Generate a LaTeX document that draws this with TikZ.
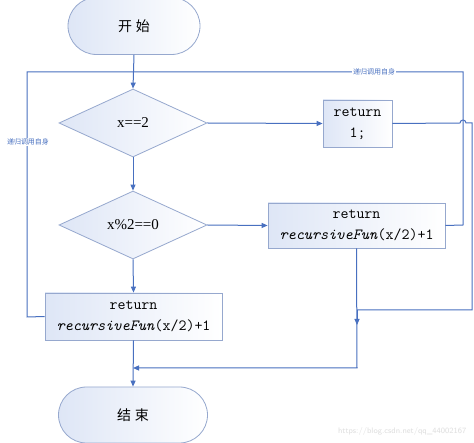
\documentclass[tikz,border=0pt]{standalone}
\usepackage{fontspec}
\setmainfont{Liberation Serif}
\newfontfamily\cjk{Noto Sans CJK SC}
\usetikzlibrary{shapes.geometric,shapes.misc,arrows.meta}
\definecolor{lineblue}{RGB}{72,112,192}
\definecolor{edgegray}{RGB}{150,168,206}
\definecolor{fillblue}{RGB}{222,230,246}
\definecolor{wmgray}{RGB}{222,222,222}
\begin{document}
\begin{tikzpicture}[x=1pt,y=-1pt,
  shapefill/.style={draw=edgegray, line width=0.8pt, left color=fillblue, right color=white},
  term/.style={shapefill, rounded rectangle, minimum width=132pt, minimum height=57pt, inner sep=0pt, font=\cjk\fontsize{14}{16}\selectfont},
  decide/.style={shapefill, diamond, minimum width=148pt, minimum height=68pt, inner sep=0pt, font=\fontsize{15}{17}\selectfont},
  action/.style={shapefill, rectangle, inner sep=0pt, align=center, font=\ttfamily\fontsize{15.5}{21}\selectfont},
  flow/.style={draw=lineblue, line width=1pt},
  arr/.style={flow, -{Triangle[length=6pt,width=5pt]}},
  lbl/.style={fill=white, inner sep=1pt, text=lineblue, font=\cjk\fontsize{7}{8}\selectfont}
]
\useasboundingbox (0,0) rectangle (474,443);
\clip (0,0) rectangle (474,443);
\fill[white] (0,0) rectangle (474,443);

\node[term] (start) at (134,26) {开\hspace{4pt}始};
\node[decide] (d1) at (133,123) {x==2};
\node[decide] (d2) at (133,225) {x\%2==0};
\node[action, minimum width=69pt, minimum height=47pt] (r1) at (357.5,123.5) {return\\1;};
\node[action, minimum width=177pt, minimum height=45pt] (r2) at (356.5,225.5) {return\\\textit{recursiveFun}(x/2)+1};
\node[action, minimum width=177pt, minimum height=47pt] (r3) at (133.5,316.5) {return\\\textit{recursiveFun}(x/2)+1};
\node[term, minimum width=149pt, minimum height=56pt] (end) at (133,415) {结\hspace{4pt}束};

\coordinate (tr) at (463,72);
\coordinate (tl) at (27,72);
\coordinate (bl) at (27,317);
\coordinate (rr) at (463,225);
\coordinate (h1) at (460,123);
\coordinate (h2) at (466,123);
\coordinate (o1) at (472,123);
\coordinate (o2) at (472,310);
\coordinate (j1) at (357,310);
\coordinate (j2) at (357,325);
\coordinate (b1) at (357,368);
\coordinate (b2) at (133,368);

\draw[arr] (start.south) -- (d1.north);
\draw[arr] (d1.east) -- (r1.west);
\draw[arr] (d1.south) -- (d2.north);
\draw[arr] (d2.east) -- (r2.west);
\draw[arr] (d2.south) -- (r3.north);
\draw[arr] (r3.south) -- (end.north);

\draw[flow] (r2.east) -- (rr) -- (tr) -- (tl) -- (bl) -- (r3.west);
\draw[flow] (r1.east) -- (h1) arc[start angle=180, end angle=0, radius=3pt] -- (o1) -- (o2) -- (j1);
\draw[arr] (j1) -- (j2);
\draw[arr] (r2.south) -- (b1) -- (b2);

\node[lbl] (lab1) at (374,72) {递归调用自身};
\node[lbl] (lab2) at (28,142) {递归调用自身};

\node[text=wmgray, font=\fontfamily{lmss}\fontsize{8}{9}\selectfont, anchor=east] (wm) at (470,432) {https://blog.csdn.net/qq\_44002167};
\end{tikzpicture}
\end{document}
